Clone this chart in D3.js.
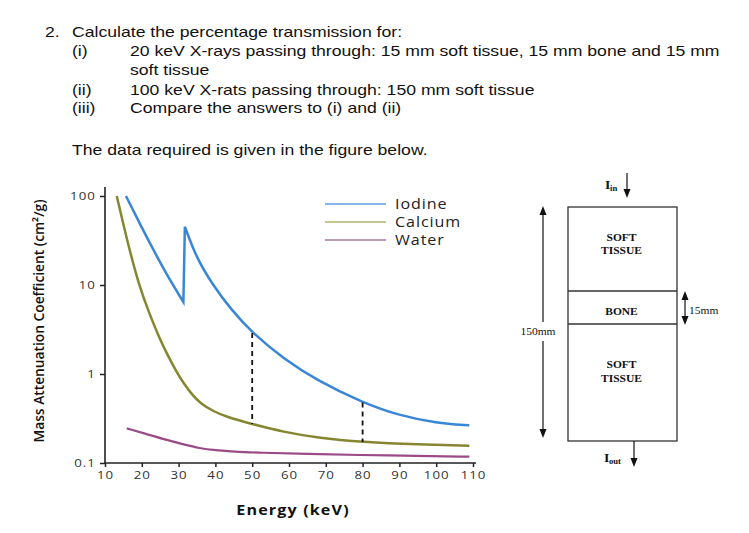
<!DOCTYPE html>
<html>
<head>
<meta charset="utf-8">
<script src="https://cdn.jsdelivr.net/npm/d3@7/dist/d3.min.js"></script>
<style>
  body { margin: 0; background: #fff; }
  svg { display: block; }
  .q { font-family: "Liberation Sans", Arial, sans-serif; font-size: 15px; fill: #111; }
  .tick text { font-family: "Open Sans", sans-serif; font-size: 11.5px; letter-spacing: 0.9px; fill: #333; }
  .legend text { font-family: "Open Sans", sans-serif; font-size: 14px; letter-spacing: 0.8px; fill: #222; }
  .xlabel { font-family: "Open Sans", sans-serif; font-size: 14px; font-weight: 700; letter-spacing: 1px; fill: #111; }
  .ylabel { font-family: "Open Sans", sans-serif; font-size: 14px; font-weight: 600; fill: #111; }
  .diag { font-family: "Liberation Serif", "DejaVu Serif", serif; font-size: 10px; fill: #111; }
  .diag.b { font-weight: 700; }
</style>
</head>
<body>
<svg id="chart" width="749" height="533"></svg>
<script>
// ---- data ----
const energyTicks = [10, 20, 30, 40, 50, 60, 70, 80, 90, 100, 110];
const muTicks = [0.1, 1, 10, 100];
const seriesNames = ["Iodine", "Calcium", "Water"];

// iodine: K-edge jump between 31.3 and 31.7 keV
const iodineE  = [15.7, 20, 24, 28, 31.3, 31.7, 34.9, 39.4, 44, 50, 58.5, 67.5, 80, 90, 100, 109];
const iodineMu = [100, 43.9, 21.3, 10.7, 6.44, 45.2, 19.9, 9.9, 5.46, 2.89, 1.49, 0.853, 0.477, 0.341, 0.281, 0.265];

const calciumE  = [13.2, 16, 19.2, 22, 25, 27, 29.3, 31.3, 33.5, 35.8, 39.5, 43.1, 50, 58.5, 67.5, 80, 95, 109];
const calciumMu = [100, 31.6, 10, 4.84, 2.41, 1.635, 1.08, 0.793, 0.596, 0.472, 0.379, 0.329, 0.274, 0.223, 0.193, 0.172, 0.161, 0.156];

const waterE  = [15.9, 21, 26.8, 31, 35.8, 40, 44.9, 52, 65, 79, 95, 109];
const waterMu = [0.245, 0.213, 0.181, 0.1635, 0.146, 0.139, 0.134, 0.1305, 0.1265, 0.123, 0.12, 0.1177];

// dashed read-off lines (energy, iodine value, calcium value)
const markerE      = [50, 80];
const markerTop    = [2.89, 0.477];
const markerBottom = [0.274, 0.172];

const colors = ["#3a86d6", "#868631", "#9a4a86"];
const legendColors = ["#5b9fe0", "#b3b36a", "#a8789f"];

const SX = 1.15;  // picture is slightly stretched sideways
const QSX = 1.175;

const svg = d3.select("#chart");

function stretched(parent, x, y, str, cls, anchor, sx) {
  return parent.append("text")
    .attr("class", cls)
    .attr("text-anchor", anchor || "start")
    .attr("transform", `translate(${x},${y}) scale(${sx || SX},1)`)
    .text(str);
}

// ---- question text ----
const qLines = [
  ["2.", 45, 37], ["Calculate the percentage transmission for:", 72, 37],
  ["(i)", 72, 56], ["20 keV X-rays passing through: 15 mm soft tissue, 15 mm bone and 15 mm", 130, 56],
  ["soft tissue", 130, 75],
  ["(ii)", 72, 95], ["100 keV X-rats passing through: 150 mm soft tissue", 130, 95],
  ["(iii)", 72, 113], ["Compare the answers to (i) and (ii)", 130, 113],
  ["The data required is given in the figure below.", 72, 155]
];
qLines.forEach(d => stretched(svg, d[1], d[2], d[0], "q", "start", QSX));

// ---- chart ----
const x = d3.scaleLinear().domain([10, 110]).range([105, 473]);
const y = d3.scaleLog().domain([0.1, 100]).range([463, 196]);

const xAxis = svg.append("g")
  .attr("transform", `translate(0,${y(0.1)})`)
  .call(d3.axisBottom(x).tickValues(energyTicks).tickSize(4).tickSizeOuter(0).tickPadding(4).tickFormat(d3.format("d")));
xAxis.select(".domain").remove();
xAxis.selectAll(".tick line").attr("stroke", "#222").attr("stroke-width", 1.5);
xAxis.selectAll(".tick text").attr("transform", `scale(${SX},1)`);

const yAxis = svg.append("g")
  .attr("transform", `translate(${x(10)},0)`)
  .call(d3.axisLeft(y).tickValues(muTicks).tickSize(5).tickPadding(3).tickFormat(d => d));
yAxis.select(".domain").remove();
yAxis.selectAll(".tick line").attr("stroke", "#222").attr("stroke-width", 1.5);
yAxis.selectAll(".tick text").attr("transform", `scale(${SX},1)`);

// axis lines
svg.append("line")
  .attr("x1", x(10)).attr("x2", x(110) + 3)
  .attr("y1", y(0.1)).attr("y2", y(0.1))
  .attr("stroke", "#222").attr("stroke-width", 1.6);
svg.append("line")
  .attr("x1", x(10)).attr("x2", x(10))
  .attr("y1", y(0.1)).attr("y2", y(100) - 9)
  .attr("stroke", "#222").attr("stroke-width", 1.6);

const line = d3.line()
  .x(d => x(d[0]))
  .y(d => y(d[1]))
  .curve(d3.curveBasis);

// split a series where it jumps up (absorption edge) so the corners stay sharp
function edgePath(pts) {
  let k = pts.findIndex((p, i) => i > 0 && p[1] > pts[i - 1][1]);
  if (k < 0) return line(pts);
  return line(pts.slice(0, k)) + line(pts.slice(k)).replace(/^M/, "L");
}

const series = [
  d3.zip(iodineE, iodineMu),
  d3.zip(calciumE, calciumMu),
  d3.zip(waterE, waterMu)
];
const widths = [2.5, 2.5, 2.2];

series.forEach((s, i) => {
  svg.append("path")
    .attr("fill", "none")
    .attr("stroke", colors[i])
    .attr("stroke-width", widths[i])
    .attr("stroke-linejoin", "miter")
    .attr("d", edgePath(s));
});

// dashed read-off lines
svg.selectAll(".marker")
  .data(markerE)
  .enter()
  .append("line")
  .attr("class", "marker")
  .attr("x1", d => x(d)).attr("x2", d => x(d))
  .attr("y1", (d, i) => y(markerTop[i]))
  .attr("y2", (d, i) => y(markerBottom[i]))
  .attr("stroke", "#111")
  .attr("stroke-width", 1.8)
  .attr("stroke-dasharray", "5,4");

// legend
const legend = svg.append("g").attr("class", "legend");
seriesNames.forEach((name, i) => {
  const ly = 204 + i * 18;
  legend.append("line")
    .attr("x1", 325).attr("x2", 386)
    .attr("y1", ly).attr("y2", ly)
    .attr("stroke", legendColors[i]).attr("stroke-width", 1.5);
  stretched(legend, 395, ly + 5, name, "");
});

// axis titles
stretched(svg, 293, 515, "Energy (keV)", "xlabel", "middle");
svg.append("text")
  .attr("class", "ylabel")
  .attr("text-anchor", "middle")
  .attr("transform", "translate(44,321) rotate(-90)")
  .attr("textLength", 243)
  .attr("lengthAdjust", "spacingAndGlyphs")
  .text("Mass Attenuation Coefficient (cm²/g)");

// ---- slab diagram ----
const layers = ["SOFT|TISSUE", "BONE", "SOFT|TISSUE"];
const layerEdges = [0, 84, 117, 234]; // px from slab top
const layerTextY = [240.5, 314.5, 368]; // first baseline of each label
const slab = { left: 568, right: 677, top: 207 };
const dg = svg.append("g");

function arrowHead(px, py, dir) {
  const s = dir; // 1 = down, -1 = up
  dg.append("path")
    .attr("d", `M${px},${py} L${px - 3.5},${py - s * 9} L${px + 3.5},${py - s * 9} Z`)
    .attr("fill", "#111");
}

dg.append("rect")
  .attr("x", slab.left).attr("y", slab.top)
  .attr("width", slab.right - slab.left)
  .attr("height", layerEdges[3])
  .attr("fill", "none").attr("stroke", "#333").attr("stroke-width", 1.3);

[1, 2].forEach(k => {
  dg.append("line")
    .attr("x1", slab.left).attr("x2", slab.right)
    .attr("y1", slab.top + layerEdges[k]).attr("y2", slab.top + layerEdges[k])
    .attr("stroke", "#333").attr("stroke-width", 1.3);
});

layers.forEach((name, k) => {
  const cx = (slab.left + slab.right) / 2 - 1;
  name.split("|").forEach((p, j) => {
    stretched(dg, cx, layerTextY[k] + j * 13.5, p, "diag b", "middle");
  });
});

// I in
stretched(dg, 605, 189, "I", "diag b", "start").style("font-size", "12px");
stretched(dg, 610, 191, "in", "diag b", "start").style("font-size", "7.5px");
dg.append("line").attr("x1", 627).attr("x2", 627).attr("y1", 173).attr("y2", 190).attr("stroke", "#111").attr("stroke-width", 1.2);
arrowHead(627, 198, 1);

// I out
stretched(dg, 604, 462, "I", "diag b", "start").style("font-size", "12px");
stretched(dg, 609, 464, "out", "diag b", "start").style("font-size", "7.5px");
dg.append("line").attr("x1", 634).attr("x2", 634).attr("y1", slab.top + layerEdges[3]).attr("y2", 459).attr("stroke", "#111").attr("stroke-width", 1.2);
arrowHead(634, 467, 1);

// 150mm arrow
dg.append("line").attr("x1", 543).attr("x2", 543).attr("y1", 214).attr("y2", 322).attr("stroke", "#111").attr("stroke-width", 1.2);
dg.append("line").attr("x1", 543).attr("x2", 543).attr("y1", 341).attr("y2", 430).attr("stroke", "#111").attr("stroke-width", 1.2);
arrowHead(543, 206, -1);
arrowHead(543, 438, 1);
stretched(dg, 538, 335, "150mm", "diag", "middle");

// 15mm arrow
dg.append("line").attr("x1", 685).attr("x2", 685).attr("y1", 298).attr("y2", 318).attr("stroke", "#111").attr("stroke-width", 1.2);
arrowHead(685, 291, -1);
arrowHead(685, 325, 1);
stretched(dg, 689, 314, "15mm", "diag", "start");
</script>
</body>
</html>
